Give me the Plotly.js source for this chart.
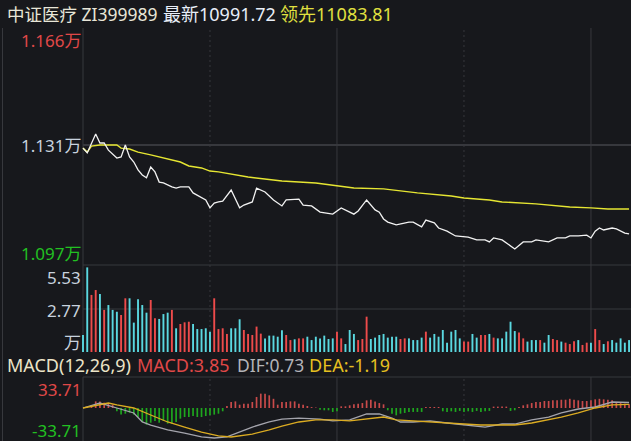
<!DOCTYPE html>
<html><head><meta charset="utf-8">
<script src="https://cdn.plot.ly/plotly-3.0.1.min.js"></script>
<style>html,body{margin:0;padding:0;background:#17181c;}#c{width:631px;height:441px;}</style>
</head><body><div id="c"></div>
<script>
// ---- data (minute index from 09:30) ----
const volume = [1.11,5.53,3.73,4.05,3.79,2.75,3.07,2.75,2.63,2.42,3.51,3.51,1.92,3.44,3.07,2.57,3.40,2.20,2.16,2.48,
2.57,2.75,1.55,1.83,1.94,1.98,1.83,1.50,1.50,1.55,1.33,3.51,1.50,1.55,1.18,1.55,1.55,2.14,1.44,1.18,
1.11,1.66,1.20,0.89,1.07,1.07,1.00,1.42,1.11,0.78,0.83,0.89,0.89,1.00,0.78,1.00,0.89,1.07,0.85,0.89,
1.33,0.89,0.52,1.44,1.18,0.78,0.85,2.31,0.85,0.94,1.11,1.18,0.94,1.00,1.00,0.85,0.89,0.89,0.78,0.78,
0.94,1.33,0.94,1.18,1.00,1.44,0.61,1.33,1.44,0.89,0.68,0.68,1.18,0.94,1.11,1.11,1.18,0.94,0.89,0.89,
1.33,1.98,1.37,1.27,0.89,0.68,0.78,0.78,0.78,0.61,1.11,0.85,0.78,0.68,0.61,0.52,0.70,0.78,0.46,0.61,
0.61,1.50,0.78,0.52,0.70,0.78,0.61,0.89,0.61,0.78];
const volUp = [0,0,1,1,0,1,0,0,0,1,1,0,0,0,0,0,1,1,0,0,
0,1,0,1,1,1,0,0,0,0,0,1,1,1,1,0,0,0,1,1,
1,1,1,0,0,0,0,0,1,1,0,1,1,0,0,0,0,0,0,0,
1,1,0,0,0,1,1,1,0,0,0,0,0,0,0,1,1,0,0,0,
0,1,0,0,0,0,0,0,0,0,1,1,0,0,1,1,0,1,0,0,
0,0,0,1,1,0,0,0,1,0,0,1,1,0,1,1,1,0,1,1,
0,1,1,0,1,0,0,0,0,0];
const macdHist = [0,1,3,7.2,7.2,5.8,4.7,3.6,-3.6,-7.2,-6.2,-5.1,-7.2,-9.8,-15.2,-18.1,-16,-14.1,-16,-14.1,
-17,-17,-15.2,-11.6,-9.8,-9.8,-8.7,-9.8,-9.8,-8.7,-8,-7.2,-6.2,-3.6,2.2,6.5,7.2,3.6,4.7,4.7,
6.5,12,15.6,15.6,13.8,10,3.6,6.5,6.5,7.2,7.2,4.7,3.6,2.2,1,0.5,-1.8,-2.5,-2.5,-4.3,
-3.6,1.8,1.8,2.9,4,4.7,5.4,8.3,9,7,5.4,4,-2.5,-6.2,-8,-6.2,-5.4,-4.3,-4.3,-4.3,
-4.3,1.1,1.1,1.1,1.1,-3.6,-4.3,-3.6,-4.3,-3.2,-4.3,-3.6,-4.3,-3.2,-4.3,-3.6,-3.2,1.5,1.5,1.5,
1.5,-3.2,-2.5,1,2.9,4,5.4,6.5,6.5,7.6,7.6,8.3,8.3,9,9,10,9,8.3,7.6,7.6,
8.3,9.4,10,9.4,9,8.3,6.5,5.4,4.7,4];
const priceMin = [0,1,3,4,5,6,8,9,10,11,12,13,14,15,16,17,18,19,21,22,23,24,25,26,28,29,30,31,32,33,35,37,38,40,41,43,45,47,48,51,52,54,56,59,61,62,64,65,67,69,70,71,72,74,75,77,78,80,81,83,84,86,88,91,93,95,96,97,99,100,102,104,106,107,109,110,112,114,115,117,119,120,121,122,123,125,126,127,128,129];
const price = [11299,11282,11349,11317,11317,11292,11264,11268,11310,11268,11250,11222,11204,11194,11232,11215,11179,11176,11162,11158,11162,11162,11162,11141,11126,11116,11088,11105,11109,11112,11151,11088,11098,11109,11158,11144,11116,11095,11116,11119,11098,11095,11073,11066,11088,11081,11066,11077,11116,11081,11073,11049,11038,11028,11031,11038,11038,11021,11045,11035,11017,11006,10989,10985,10975,10975,10968,10982,10975,10964,10943,10968,10968,10975,10971,10968,10982,10982,10989,10989,10992,10982,11006,11017,11010,11017,11014,11006,10999,10996];
const avgMin = [0,1,2,4,8,9,11,13,16,18,21,23,25,28,30,32,39,47,55,60,64,71,79,87,90,96,99,107,115,120,124,129];
const avgPrice = [11299,11285,11306,11310,11310,11299,11296,11285,11275,11268,11257,11250,11236,11229,11218,11215,11197,11183,11176,11165,11158,11155,11141,11130,11123,11116,11109,11102,11091,11088,11084,11084];
const difMin = [0,4,8,12,14,16,20,24,28,31,34,37,40,44,47,51,56,59,63,67,70,73,75,78,82,86,90,95,99,102,106,110,113,117,121,125,129];
const dif = [0,5.4,0,-5.4,-15.2,-18.5,-23.9,-27.2,-31.5,-32.6,-31.5,-26.1,-20.7,-15.2,-12,-10.9,-12,-14.1,-13,-6.5,-6.5,-10.9,-15.2,-15.2,-14.1,-16.3,-18.5,-20.7,-17.4,-17.4,-13,-9.8,-5.4,-1.1,1.1,6.5,6];
const deaMin = [0,6,8,12,16,20,24,28,32,35,40,44,47,51,55,59,63,67,71,74,78,82,86,90,94,98,102,106,110,113,117,121,125,129];
const dea = [0,5.4,3.3,0,-7.6,-15.2,-20.7,-26.1,-30.4,-31.5,-28.3,-23.9,-19.6,-15.2,-13,-13,-14.1,-12,-9.8,-13,-14.1,-15.2,-16.3,-17.4,-18.5,-18.5,-18.5,-16.3,-13,-9.8,-5.4,0,3.3,4];
const gridMinutes = [0,30,60,90,120];
const priceLabels = ['1.166万', '1.131万', '1.097万'];
const volLabels = ['5.53', '2.77', '万'];
const macdLabels = ['33.71', '-33.71'];

// ---- layout helpers (pixels -> paper) ----
const W = 631, H = 441, PXM = 4.233, X0 = 83;
const px = v => v / W, py = v => 1 - v / H;
const idx = volume.map((_, i) => i);

const traces = [
  {x: idx, y: volume, type: 'bar', yaxis: 'y2', width: 0.45,
   marker: {color: volUp.map(u => u ? '#ee4b4b' : '#5ad8e0'), line: {width: 0}}, hoverinfo: 'skip'},
  {x: idx, y: macdHist, type: 'bar', yaxis: 'y3', width: 0.4,
   marker: {color: macdHist.map(v => v >= 0 ? '#c84a4a' : '#1ea61e'), line: {width: 0}}, hoverinfo: 'skip'},
  {x: avgMin, y: avgPrice, type: 'scatter', mode: 'lines', yaxis: 'y', line: {color: '#e6e632', width: 1.4}, hoverinfo: 'skip'},
  {x: priceMin, y: price, type: 'scatter', mode: 'lines', yaxis: 'y', line: {color: '#f2f2f2', width: 1.3}, hoverinfo: 'skip'},
  {x: difMin, y: dif, type: 'scatter', mode: 'lines', yaxis: 'y3', line: {color: '#a4a4ac', width: 1.3}, hoverinfo: 'skip'},
  {x: deaMin, y: dea, type: 'scatter', mode: 'lines', yaxis: 'y3', line: {color: '#dcac22', width: 1.3}, hoverinfo: 'skip'}
];

const shapes = [];
gridMinutes.forEach((m, k) => {
  const dash = (k % 2 === 1) ? '2px,3px' : 'solid';
  [[28, 352], [377, 441]].forEach(seg => {
    shapes.push({type: 'line', xref: 'x', yref: 'paper', x0: m, x1: m, y0: py(seg[1]), y1: py(seg[0]),
      line: {color: '#37383d', width: 1, dash: dash}, layer: 'below'});
  });
});
[[145, 2], [265, 1], [309, 1], [377, 1]].forEach(h => {
  shapes.push({type: 'line', xref: 'paper', yref: 'paper', x0: px(X0), x1: 1, y0: py(h[0]), y1: py(h[0]),
    line: {color: '#37383d', width: h[1]}, layer: 'below'});
});
shapes.push({type: 'line', xref: 'paper', yref: 'paper', x0: px(2.5), x1: px(2.5), y0: 0, y1: py(28),
  line: {color: '#37383d', width: 1}, layer: 'below'});

const F = 'Noto Sans, Noto Sans CJK SC, sans-serif';
function ann(text, x, y, color, anchor, size) {
  return {text: text, x: px(x), y: py(y), xref: 'paper', yref: 'paper', showarrow: false,
    xanchor: anchor || 'right', yanchor: 'middle', font: {family: F, size: size || 17, color: color}, borderpad: 0};
}
const annotations = [
  ann('中证医疗 ZI399989', 6, 14, '#e8e6d8', 'left', 17.5),
  ann('最新10991.72', 162, 14, '#e8eef8', 'left', 18),
  ann('领先11083.81', 279, 14, '#e0e040', 'left', 18),
  ann(priceLabels[0], 82, 41, '#e04848'),
  ann(priceLabels[1], 82, 145, '#c8d2de'),
  ann(priceLabels[2], 82, 253, '#22c022'),
  ann(volLabels[0], 82, 277, '#c8d2de'),
  ann(volLabels[1], 82, 310, '#c8d2de'),
  ann(volLabels[2], 82, 342, '#c8d2de'),
  ann('MACD(12,26,9)', 6, 365, '#ece4c8', 'left', 18),
  ann('MACD:3.85', 136, 365, '#e04848', 'left', 18),
  ann('DIF:0.73', 236, 365, '#b4b4b8', 'left', 17.5),
  ann('DEA:-1.19', 308, 365, '#e6c020', 'left', 18),
  ann(macdLabels[0], 82, 389, '#e04848'),
  ann(macdLabels[1], 82, 430, '#22c022')
];

const layout = {
  width: W, height: H, margin: {l: 0, r: 0, t: 0, b: 0},
  paper_bgcolor: '#17181c', plot_bgcolor: '#17181c', showlegend: false, barmode: 'overlay',
  xaxis: {range: [-X0 / PXM, (W - X0) / PXM], visible: false, fixedrange: true, anchor: 'y3'},
  yaxis: {domain: [py(262), py(28)], range: [10897, 11723], visible: false, fixedrange: true},
  yaxis2: {domain: [py(352), py(265)], range: [0, 87 / 15.3], visible: false, fixedrange: true},
  yaxis3: {domain: [0, py(377)], range: [-33 * 1.087, 31 * 1.087], visible: false, fixedrange: true},
  shapes: shapes, annotations: annotations
};
Plotly.newPlot('c', traces, layout, {staticPlot: true, displayModeBar: false});
</script></body></html>
